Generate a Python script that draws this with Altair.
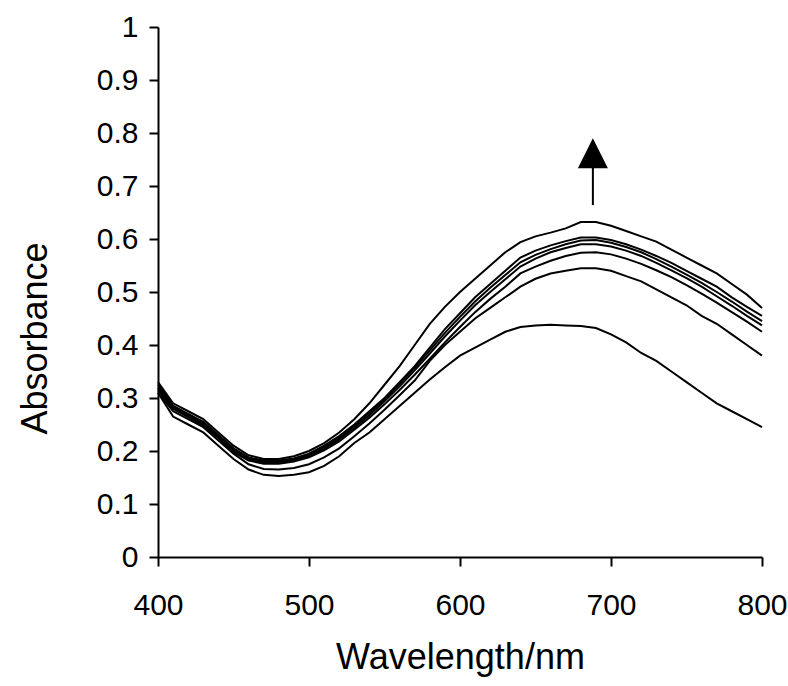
import altair as alt
import pandas as pd

wavelength = [400, 410, 420, 430, 440, 450, 460, 470, 480, 490, 500, 510, 520, 530, 540,
              550, 560, 570, 580, 590, 600, 610, 620, 630, 640, 650, 660, 670, 680, 690,
              700, 710, 720, 730, 740, 750, 760, 770, 780, 790, 800]

curve1 = [0.33, 0.29, 0.275, 0.26, 0.235, 0.21, 0.192, 0.185, 0.185, 0.19, 0.2, 0.215, 0.235,
          0.26, 0.29, 0.325, 0.36, 0.4, 0.44, 0.472, 0.5, 0.525, 0.55, 0.575, 0.594, 0.605,
          0.612, 0.62, 0.632, 0.632, 0.625, 0.615, 0.605, 0.595, 0.58, 0.565, 0.55, 0.535,
          0.515, 0.495, 0.47]
curve2 = [0.325, 0.285, 0.27, 0.255, 0.23, 0.205, 0.188, 0.182, 0.182, 0.186, 0.195, 0.21,
          0.228, 0.25, 0.275, 0.3, 0.33, 0.36, 0.395, 0.43, 0.46, 0.49, 0.515, 0.54, 0.565,
          0.578, 0.588, 0.596, 0.603, 0.603, 0.598, 0.59, 0.58, 0.568, 0.555, 0.54, 0.525,
          0.51, 0.49, 0.472, 0.455]
curve3 = [0.32, 0.285, 0.268, 0.252, 0.228, 0.203, 0.186, 0.18, 0.18, 0.184, 0.193, 0.207,
          0.225, 0.247, 0.272, 0.298, 0.327, 0.357, 0.39, 0.423, 0.453, 0.482, 0.508, 0.532,
          0.556, 0.57, 0.581, 0.59, 0.597, 0.598, 0.593, 0.585, 0.575, 0.562, 0.548, 0.533,
          0.517, 0.5, 0.482, 0.463, 0.445]
curve4 = [0.318, 0.282, 0.266, 0.25, 0.226, 0.2, 0.184, 0.178, 0.178, 0.182, 0.19, 0.204,
          0.222, 0.244, 0.268, 0.294, 0.322, 0.352, 0.384, 0.416, 0.446, 0.475, 0.5, 0.524,
          0.548, 0.563, 0.575, 0.583, 0.59, 0.59, 0.586, 0.578, 0.568, 0.555, 0.541, 0.526,
          0.51, 0.492, 0.474, 0.455, 0.437]
curve5 = [0.315, 0.28, 0.264, 0.248, 0.224, 0.198, 0.182, 0.176, 0.176, 0.18, 0.188, 0.201,
          0.218, 0.24, 0.263, 0.288, 0.315, 0.344, 0.374, 0.405, 0.434, 0.462, 0.487, 0.51,
          0.535, 0.548, 0.559, 0.568, 0.574, 0.575, 0.571, 0.563, 0.553, 0.541, 0.528, 0.513,
          0.497, 0.48, 0.462, 0.444, 0.425]
curve6 = [0.31, 0.275, 0.26, 0.245, 0.22, 0.195, 0.175, 0.166, 0.165, 0.168, 0.175, 0.188,
          0.205, 0.228, 0.252, 0.278, 0.305, 0.333, 0.37, 0.4, 0.425, 0.45, 0.47, 0.49, 0.51,
          0.525, 0.535, 0.54, 0.545, 0.545, 0.54, 0.53, 0.52, 0.505, 0.49, 0.475, 0.455, 0.44,
          0.42, 0.4, 0.38]
curve7 = [0.31, 0.265, 0.25, 0.235, 0.21, 0.185, 0.165, 0.155, 0.153, 0.155, 0.16, 0.172,
          0.19, 0.215, 0.235, 0.26, 0.285, 0.31, 0.335, 0.358, 0.38, 0.395, 0.41, 0.425, 0.434,
          0.437, 0.438, 0.437, 0.436, 0.432, 0.42, 0.405, 0.385, 0.37, 0.35, 0.33, 0.31, 0.29,
          0.275, 0.26, 0.245]

curves = {"c1": curve1, "c2": curve2, "c3": curve3, "c4": curve4,
          "c5": curve5, "c6": curve6, "c7": curve7}

# arrow annotation (wavelength, absorbance)
arrow_x = [688]
arrow_shaft = [0.664, 0.735]
arrow_head_y = [0.762]

rows = []
for name, vals in curves.items():
    for w, a in zip(wavelength, vals):
        rows.append({"curve": name, "wl": w, "abs": a})
df = pd.DataFrame(rows)

font = "Liberation Sans"

xscale = alt.Scale(domain=[400, 800], nice=False, zero=False)
yscale = alt.Scale(domain=[0, 1], nice=False)

lines = alt.Chart(df).mark_line(color="black", strokeWidth=2).encode(
    x=alt.X("wl:Q", scale=xscale,
            axis=alt.Axis(title="Wavelength/nm", values=[400, 500, 600, 700, 800],
                          grid=False, domainColor="black", domainWidth=2,
                          tickColor="black", tickWidth=2, tickSize=9,
                          labelFont=font, labelFontSize=30, labelColor="black",
                          labelPadding=24, labelFlush=False,
                          titleFont=font, titleFontSize=36, titleFontWeight="normal",
                          titleColor="black", titleBaseline="alphabetic", titleY=111)),
    y=alt.Y("abs:Q", scale=yscale,
            axis=alt.Axis(title="Absorbance", values=[0, 0.1, 0.2, 0.3, 0.4, 0.5, 0.6, 0.7, 0.8, 0.9, 1.0],
                          format="~g", grid=False, domainColor="black", domainWidth=2,
                          tickColor="black", tickWidth=2, tickSize=9,
                          labelFont=font, labelFontSize=30, labelColor="black",
                          labelPadding=11, labelFlush=False,
                          titleFont=font, titleFontSize=36, titleFontWeight="normal",
                          titleColor="black", titleAngle=-90, titleAlign="center",
                          titleBaseline="middle", titleX=-123, titleY=311)),
    detail="curve:N",
)

shaft_df = pd.DataFrame({"wl": arrow_x, "y1": [arrow_shaft[0]], "y2": [arrow_shaft[1]]})
shaft = alt.Chart(shaft_df).mark_rule(color="black", strokeWidth=2).encode(
    x=alt.X("wl:Q", scale=xscale), y=alt.Y("y1:Q", scale=yscale), y2="y2:Q")

head_df = pd.DataFrame({"wl": arrow_x, "y": arrow_head_y})
head = alt.Chart(head_df).mark_point(
    shape="M -1 1 L 1 1 L 0 -1 Z", size=900, filled=True, color="black", opacity=1
).encode(x=alt.X("wl:Q", scale=xscale), y=alt.Y("y:Q", scale=yscale))

chart = alt.layer(lines, shaft, head).properties(
    width=604, height=530,
    autosize="none",
    padding={"left": 158, "top": 27, "right": 26, "bottom": 129},
    background="white",
).configure_view(stroke=None)

chart.save("out.html", embed_options={"renderer": "svg", "actions": False})
